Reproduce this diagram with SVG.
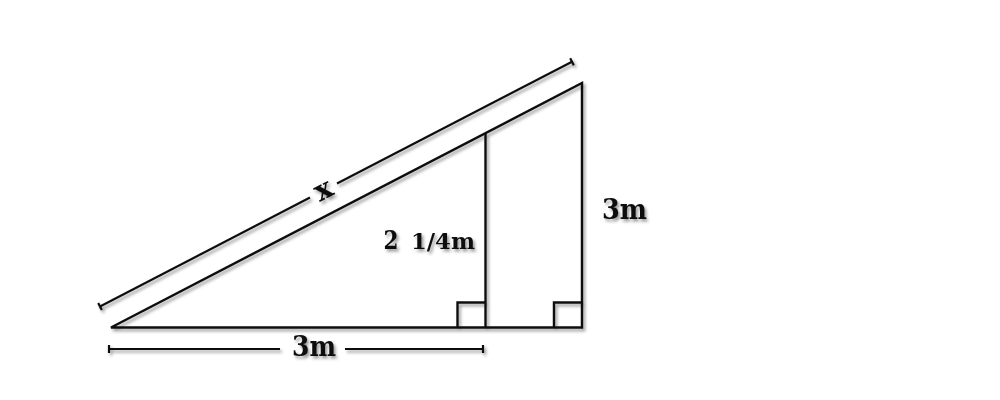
<svg xmlns="http://www.w3.org/2000/svg" width="1000" height="400" viewBox="0 0 1000 400">
<defs>
<filter id="sh" x="-10%" y="-10%" width="120%" height="120%">
<feDropShadow dx="2" dy="2.5" stdDeviation="1.6" flood-color="#000" flood-opacity="0.4"/>
</filter>
</defs>
<style>
.ln{stroke:#111;stroke-width:2.4;fill:none;stroke-linecap:butt;}
.dim{stroke:#111;stroke-width:2.2;fill:none;}
.lbl{font-family:"DejaVu Serif","Liberation Serif",serif;font-weight:bold;fill:#111;}
</style>
<rect width="1000" height="400" fill="#fff"/>
<g filter="url(#sh)">
<g id="triangle">
<polygon class="ln" points="111,327.5 582,83 582,327.5"/>
<line class="ln" x1="485.5" y1="133.1" x2="485.5" y2="327.5"/>
<polyline class="ln" points="457.5,327.5 457.5,302.5 485.5,302.5"/>
<polyline class="ln" points="554,327.5 554,302.5 582,302.5"/>
</g>
<g id="connectors">
<line class="dim" x1="109" y1="349" x2="280" y2="349"/>
<line class="dim" x1="345" y1="349" x2="483" y2="349"/>
<line class="dim" x1="109" y1="345" x2="109" y2="353"/>
<line class="dim" x1="483" y1="345" x2="483" y2="353"/>
<line class="dim" x1="100" y1="306.5" x2="310" y2="197.6"/>
<line class="dim" x1="337" y1="183.6" x2="572" y2="61.7"/>
<line class="dim" x1="98.2" y1="303" x2="101.8" y2="310"/>
<line class="dim" x1="570.2" y1="58.2" x2="573.8" y2="65.2"/>
</g>
<g id="labels">
<text class="lbl" x="323.5" y="189" font-size="29" text-anchor="middle" dominant-baseline="central" transform="rotate(-27.4 323.5 190.6)">x</text>
<text class="lbl" x="292" y="356" font-size="27" textLength="44" lengthAdjust="spacingAndGlyphs">3m</text>
<text class="lbl" x="602" y="218.5" font-size="27" textLength="45" lengthAdjust="spacingAndGlyphs">3m</text>
<text class="lbl" x="383.5" y="249" font-size="26" textLength="15" lengthAdjust="spacingAndGlyphs">2</text>
<text class="lbl" x="411" y="249" font-size="22" textLength="64" lengthAdjust="spacingAndGlyphs">1/4m</text>
</g>
</g>
</svg>
